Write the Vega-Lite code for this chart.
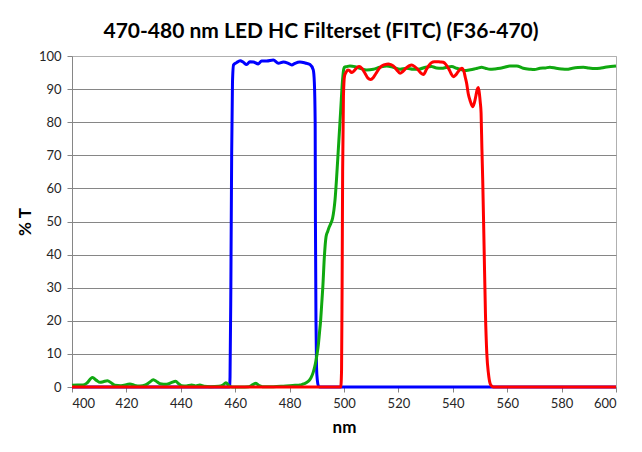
{
  "$schema": "https://vega.github.io/schema/vega-lite/v6.json",
  "autosize": {"type": "none"},
  "padding": {"left": 72, "top": 56, "right": 26, "bottom": 65},
  "width": 544,
  "height": 331,
  "background": "white",
  "title": {
    "text": "470-480 nm LED HC Filterset (FITC) (F36-470)",
    "font": "Lato",
    "fontSize": 21,
    "fontWeight": "bold",
    "color": "black",
    "anchor": "middle",
    "frame": "group",
    "dx": -23,
    "offset": 8
  },
  "datasets": {
    "ex": [
      {"nm": 400, "T": 0}, {"nm": 457.9, "T": 0}, {"nm": 458.1, "T": 3}, {"nm": 458.4, "T": 30},
      {"nm": 458.7, "T": 70}, {"nm": 459.0, "T": 92}, {"nm": 459.4, "T": 97.3}, {"nm": 460.5, "T": 98.0},
      {"nm": 461.8, "T": 98.6}, {"nm": 463.0, "T": 98.1}, {"nm": 464.2, "T": 97.4}, {"nm": 465.4, "T": 98.3},
      {"nm": 466.7, "T": 98.2}, {"nm": 468.5, "T": 97.6}, {"nm": 469.7, "T": 98.5}, {"nm": 471.6, "T": 98.5},
      {"nm": 474.0, "T": 98.8}, {"nm": 475.9, "T": 97.8}, {"nm": 477.7, "T": 98.2}, {"nm": 479.5, "T": 97.8},
      {"nm": 480.8, "T": 97.3}, {"nm": 482.0, "T": 97.8}, {"nm": 483.8, "T": 98.2}, {"nm": 485.7, "T": 97.9},
      {"nm": 487.5, "T": 97.4}, {"nm": 488.7, "T": 95.8}, {"nm": 489.1, "T": 92}, {"nm": 489.4, "T": 80},
      {"nm": 489.5, "T": 50}, {"nm": 489.7, "T": 20}, {"nm": 489.9, "T": 6}, {"nm": 490.2, "T": 2},
      {"nm": 490.6, "T": 0.3}, {"nm": 491, "T": 0}, {"nm": 600, "T": 0}
    ],
    "di": [
      {"nm": 400, "T": 0.5}, {"nm": 402, "T": 0.6}, {"nm": 404, "T": 0.6}, {"nm": 405.5, "T": 1.2},
      {"nm": 407.5, "T": 2.9}, {"nm": 409, "T": 2.0}, {"nm": 410.3, "T": 1.4}, {"nm": 411.5, "T": 1.6},
      {"nm": 413, "T": 1.9}, {"nm": 414.5, "T": 1.2}, {"nm": 415.8, "T": 0.5}, {"nm": 418, "T": 0.4},
      {"nm": 421.3, "T": 0.9}, {"nm": 423, "T": 0.5}, {"nm": 425, "T": 0.3}, {"nm": 427, "T": 0.6},
      {"nm": 428.5, "T": 1.4}, {"nm": 429.9, "T": 2.2}, {"nm": 431.2, "T": 1.6}, {"nm": 432.4, "T": 1.0},
      {"nm": 434.8, "T": 0.8}, {"nm": 436.5, "T": 1.3}, {"nm": 438.1, "T": 1.7}, {"nm": 439.2, "T": 1.0},
      {"nm": 440.3, "T": 0.4}, {"nm": 442, "T": 0.3}, {"nm": 444, "T": 0.6}, {"nm": 445.5, "T": 0.3},
      {"nm": 447, "T": 0.6}, {"nm": 448.5, "T": 0.2}, {"nm": 451, "T": 0.1}, {"nm": 454, "T": 0.2},
      {"nm": 455.5, "T": 0.6}, {"nm": 456.6, "T": 1.3}, {"nm": 457.8, "T": 0.3}, {"nm": 459, "T": 0},
      {"nm": 462, "T": 0}, {"nm": 465, "T": 0.1}, {"nm": 466.5, "T": 0.7}, {"nm": 467.6, "T": 1.1},
      {"nm": 468.8, "T": 0.4}, {"nm": 470, "T": 0.1}, {"nm": 474, "T": 0.1}, {"nm": 477, "T": 0.2},
      {"nm": 480.1, "T": 0.4}, {"nm": 482, "T": 0.5}, {"nm": 483.8, "T": 0.6}, {"nm": 485, "T": 0.9},
      {"nm": 485.7, "T": 1.1}, {"nm": 486.7, "T": 1.6}, {"nm": 487.5, "T": 2.3}, {"nm": 488.1, "T": 3.2},
      {"nm": 488.7, "T": 4.5}, {"nm": 489.2, "T": 6}, {"nm": 489.7, "T": 8}, {"nm": 490.2, "T": 10.5},
      {"nm": 490.6, "T": 13}, {"nm": 491.0, "T": 16.5}, {"nm": 491.4, "T": 20}, {"nm": 491.8, "T": 25},
      {"nm": 492.2, "T": 30}, {"nm": 492.8, "T": 39.6}, {"nm": 493.4, "T": 45.4}, {"nm": 494, "T": 47},
      {"nm": 494.6, "T": 48.4}, {"nm": 495.2, "T": 49.5}, {"nm": 495.8, "T": 51}, {"nm": 496.3, "T": 53.5},
      {"nm": 496.7, "T": 56.5}, {"nm": 497.3, "T": 63.5}, {"nm": 497.9, "T": 71.6}, {"nm": 498.5, "T": 79.7},
      {"nm": 499.0, "T": 86.7}, {"nm": 499.4, "T": 92}, {"nm": 499.8, "T": 95.5}, {"nm": 500.1, "T": 96.6},
      {"nm": 501, "T": 96.8}, {"nm": 502.2, "T": 97}, {"nm": 504, "T": 96.8}, {"nm": 505.9, "T": 96.3},
      {"nm": 508.3, "T": 95.8}, {"nm": 510.8, "T": 96}, {"nm": 513.2, "T": 96.6}, {"nm": 515.7, "T": 97},
      {"nm": 518.1, "T": 96.6}, {"nm": 520.6, "T": 96}, {"nm": 523, "T": 96.3}, {"nm": 525.5, "T": 96},
      {"nm": 527.9, "T": 96.1}, {"nm": 530, "T": 96.6}, {"nm": 532.2, "T": 96.8}, {"nm": 534, "T": 96.4},
      {"nm": 535.9, "T": 96.3}, {"nm": 537.8, "T": 96.6}, {"nm": 539.6, "T": 96.8}, {"nm": 541.4, "T": 96.3},
      {"nm": 543, "T": 95.9}, {"nm": 544.5, "T": 95.6}, {"nm": 546, "T": 95.8}, {"nm": 547.5, "T": 96},
      {"nm": 549, "T": 96.3}, {"nm": 550.6, "T": 96.6}, {"nm": 552, "T": 96.3}, {"nm": 553.7, "T": 96},
      {"nm": 555.5, "T": 96.1}, {"nm": 557.4, "T": 96.3}, {"nm": 559, "T": 96.6}, {"nm": 561, "T": 97},
      {"nm": 563.5, "T": 97}, {"nm": 565.9, "T": 96.3}, {"nm": 568.4, "T": 96}, {"nm": 570, "T": 95.9},
      {"nm": 572.1, "T": 96.3}, {"nm": 574, "T": 96.4}, {"nm": 575.7, "T": 96.6}, {"nm": 578, "T": 96.3},
      {"nm": 580, "T": 96.1}, {"nm": 581.9, "T": 96}, {"nm": 584, "T": 96.3}, {"nm": 586, "T": 96.5},
      {"nm": 588, "T": 96.6}, {"nm": 590, "T": 96.4}, {"nm": 592, "T": 96.2}, {"nm": 594.1, "T": 96.3},
      {"nm": 596, "T": 96.6}, {"nm": 598, "T": 96.8}, {"nm": 600, "T": 97.0}
    ],
    "em": [
      {"nm": 400, "T": 0}, {"nm": 498.8, "T": 0}, {"nm": 499.1, "T": 5}, {"nm": 499.3, "T": 30},
      {"nm": 499.5, "T": 65}, {"nm": 499.8, "T": 88}, {"nm": 500.2, "T": 94}, {"nm": 500.7, "T": 95},
      {"nm": 501.4, "T": 95.8}, {"nm": 502, "T": 95.6}, {"nm": 502.8, "T": 95}, {"nm": 503.4, "T": 95.3},
      {"nm": 504, "T": 95.8}, {"nm": 504.8, "T": 96.5}, {"nm": 505.6, "T": 96.8}, {"nm": 506.6, "T": 96.2},
      {"nm": 507.7, "T": 94.8}, {"nm": 508.8, "T": 93.3}, {"nm": 509.8, "T": 92.9}, {"nm": 510.8, "T": 93.5},
      {"nm": 511.8, "T": 94.8}, {"nm": 512.9, "T": 96.2}, {"nm": 513.9, "T": 97}, {"nm": 515, "T": 97.4},
      {"nm": 516.3, "T": 97.6}, {"nm": 517.2, "T": 97.4}, {"nm": 518.1, "T": 97}, {"nm": 519.4, "T": 95.8},
      {"nm": 520.6, "T": 94.8}, {"nm": 521.7, "T": 95.4}, {"nm": 522.8, "T": 96.3}, {"nm": 523.9, "T": 97},
      {"nm": 524.9, "T": 97.3}, {"nm": 526.1, "T": 96.7}, {"nm": 527.3, "T": 95.8}, {"nm": 528.3, "T": 94.8},
      {"nm": 529.2, "T": 94.4}, {"nm": 530.4, "T": 96.1}, {"nm": 531.3, "T": 97.2}, {"nm": 532.2, "T": 98},
      {"nm": 533.2, "T": 98.3}, {"nm": 534.1, "T": 98.3}, {"nm": 535.3, "T": 98.2}, {"nm": 536.5, "T": 98.1},
      {"nm": 537.5, "T": 97.4}, {"nm": 538.4, "T": 96.3}, {"nm": 539.3, "T": 94.8}, {"nm": 540.2, "T": 93.7},
      {"nm": 541.1, "T": 94.3}, {"nm": 542, "T": 95.3}, {"nm": 543.3, "T": 96.3}, {"nm": 544.1, "T": 95.3},
      {"nm": 544.6, "T": 93.5}, {"nm": 545.1, "T": 91.7}, {"nm": 545.7, "T": 88.5}, {"nm": 546.3, "T": 86.7},
      {"nm": 547.3, "T": 84.7}, {"nm": 547.9, "T": 85.8}, {"nm": 548.5, "T": 88}, {"nm": 549.0, "T": 90},
      {"nm": 549.4, "T": 90.5}, {"nm": 549.8, "T": 88.5}, {"nm": 550.1, "T": 86}, {"nm": 550.4, "T": 82.7},
      {"nm": 550.7, "T": 72}, {"nm": 551.0, "T": 62.5}, {"nm": 551.5, "T": 42.4}, {"nm": 552.0, "T": 22.3},
      {"nm": 552.5, "T": 10.2}, {"nm": 553.1, "T": 4.1}, {"nm": 553.7, "T": 1.1}, {"nm": 554.3, "T": 0.3},
      {"nm": 554.9, "T": 0}, {"nm": 600, "T": 0}
    ]
  },
  "encoding": {
    "x": {
      "field": "nm",
      "type": "quantitative",
      "title": "nm",
      "scale": {"domain": [400, 600], "nice": false, "zero": false},
      "axis": {
        "values": [400, 420, 440, 460, 480, 500, 520, 540, 560, 580, 600],
        "grid": false,
        "labelPadding": 5,
        "titlePadding": 9
      }
    },
    "y": {
      "field": "T",
      "type": "quantitative",
      "title": "% T",
      "scale": {"domain": [0, 100], "nice": false},
      "axis": {
        "values": [0, 10, 20, 30, 40, 50, 60, 70, 80, 90, 100],
        "grid": true,
        "gridColor": {"condition": {"test": "datum.value === 100", "value": "#b0b0b0"}, "value": "#868686"},
        "labelPadding": 6,
        "titlePadding": 4
      }
    }
  },
  "layer": [
    {"data": {"name": "ex"}, "mark": {"type": "line", "color": "#0000ff", "strokeWidth": 3, "interpolate": "monotone"}},
    {"data": {"name": "di"}, "mark": {"type": "line", "color": "#10a810", "strokeWidth": 3, "interpolate": "monotone"}},
    {"data": {"name": "em"}, "mark": {"type": "line", "color": "#ff0000", "strokeWidth": 3, "interpolate": "monotone"}}
  ],
  "config": {
    "view": {"stroke": "#b0b0b0", "strokeWidth": 1},
    "axis": {
      "domainColor": "#868686",
      "tickColor": "#868686",
      "tickSize": 5,
      "labelFont": "Lato",
      "labelFontSize": 13,
      "labelColor": "#262626",
      "titleFont": "Lato",
      "titleFontSize": 17,
      "titleFontWeight": "bold",
      "titleColor": "black"
    }
  }
}
